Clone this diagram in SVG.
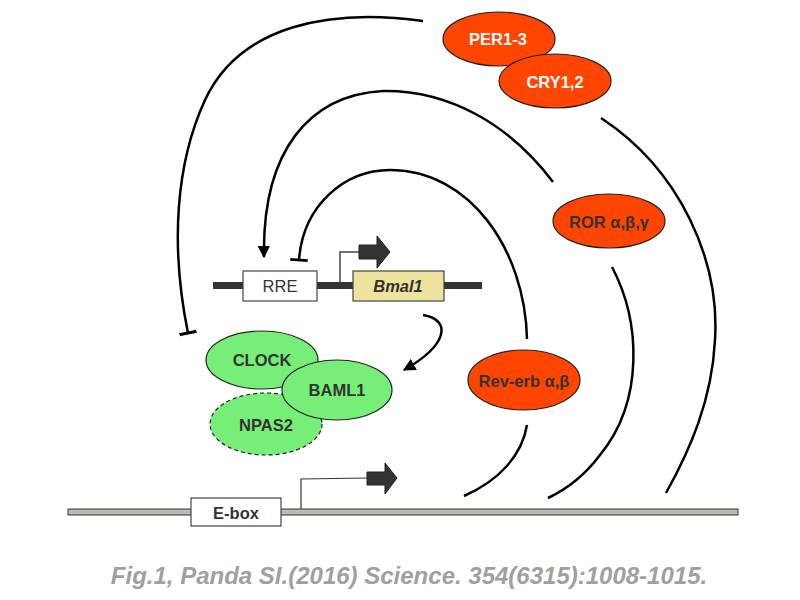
<svg xmlns="http://www.w3.org/2000/svg" width="800" height="600" viewBox="0 0 800 600">
<style>
.red{fill:#FF4500;stroke:#222;stroke-width:1.2}
.grn{fill:#77EE77;stroke:#222;stroke-width:1.2}
.t{font-family:"Liberation Sans",Arial,sans-serif;font-size:16.5px;font-weight:bold;fill:#333;text-anchor:middle;dominant-baseline:central}
.w{fill:#fff}
.c{fill:none;stroke:#000;stroke-width:2.5}
.dk{fill:#333;stroke:#222;stroke-width:1}
</style>
<defs>
<marker id="arr" viewBox="0 0 10 10" refX="9" refY="5" markerWidth="5" markerHeight="5" orient="auto" markerUnits="strokeWidth">
<path d="M0,0 L10,5 L0,10 z" fill="#000"/>
</marker>
<marker id="tbar" viewBox="0 0 4 12" refX="2" refY="6" markerWidth="2.4" markerHeight="7" orient="auto" markerUnits="strokeWidth">
<rect x="1" y="0" width="2" height="12" fill="#000"/>
</marker>
</defs>
<rect width="800" height="600" fill="#fff"/>

<g id="connectors">
<path class="c" d="M423,21 C330,8 240,25 205,100 C176,163 170,245 188,333" marker-end="url(#tbar)"/>
<path class="c" d="M553,182 C510,125 450,90 383,91 C310,95 262,150 264,257" marker-end="url(#arr)"/>
<path class="c" d="M527,339 C525,250 470,170 390,170 C345,170 303,205 299,260" marker-end="url(#tbar)"/>
<path class="c" d="M612,267 C640,320 645,400 600,455 C585,475 565,490 548,498"/>
<path class="c" d="M601,118 C680,170 720,260 715,340 C712,400 690,450 666,493"/>
<path class="c" d="M464,496 C500,480 522,455 527,425"/>
<path class="c" d="M423,315 C452,320 448,345 404,370" marker-end="url(#arr)"/>
</g>

<g id="gene-top">
<rect x="213" y="282" width="269" height="7" fill="#333"/>
<polyline points="340,282 340,252 360,252" fill="none" stroke="#444" stroke-width="1.5"/>
<path class="dk" d="M359,245 L377,245 L377,236 L390,252 L377,268 L377,259 L359,259 z"/>
</g>
<g id="RRE">
<rect x="243" y="271" width="74" height="30" fill="#fff" stroke="#444" stroke-width="1.2"/>
<text class="t" x="280" y="286" style="font-weight:normal">RRE</text>
</g>
<g id="Bmal1">
<rect x="353" y="271" width="91" height="30" fill="#EEE39E" stroke="#444" stroke-width="1.2"/>
<text class="t" x="398" y="286" font-style="italic">Bmal1</text>
</g>

<g id="gene-bottom">
<rect x="68" y="509" width="670" height="6" fill="#BBBBAF" stroke="#333" stroke-width="1"/>
<polyline points="301,509 301,479 368,478" fill="none" stroke="#333" stroke-width="1.2"/>
<path class="dk" d="M367,472 L385,472 L385,463 L397,478 L385,494 L385,485 L367,485 z"/>
</g>
<g id="Ebox">
<rect x="191" y="498" width="90" height="28" fill="#fff" stroke="#444" stroke-width="1.2"/>
<text class="t" x="236" y="513">E-box</text>
</g>

<g id="PER">
<ellipse class="red" cx="499" cy="39" rx="56" ry="27"/>
<text class="t w" x="498" y="39">PER1-3</text>
</g>
<g id="CRY">
<ellipse class="red" cx="555" cy="81" rx="56" ry="27"/>
<text class="t w" x="555" y="82">CRY1,2</text>
</g>
<g id="ROR">
<ellipse class="red" cx="609" cy="221" rx="56" ry="27"/>
<text class="t" x="609" y="222">ROR α,β,γ</text>
</g>
<g id="Reverb">
<ellipse class="red" cx="524" cy="380" rx="56" ry="30"/>
<text class="t" x="524" y="381">Rev-erb α,β</text>
</g>

<g id="CLOCK">
<ellipse class="grn" cx="262" cy="360" rx="56" ry="29"/>
<text class="t" x="262" y="360">CLOCK</text>
</g>
<g id="NPAS2">
<ellipse class="grn" cx="266" cy="424" rx="56" ry="31" stroke-dasharray="4,3"/>
<text class="t" x="266" y="425">NPAS2</text>
</g>
<g id="BAML1">
<ellipse class="grn" cx="337" cy="390" rx="55" ry="30"/>
<text class="t" x="337" y="390">BAML1</text>
</g>

<text x="409" y="584" font-family="'Liberation Sans',Arial,sans-serif" font-size="24" font-weight="bold" font-style="italic" fill="#A0A0A0" text-anchor="middle">Fig.1, Panda SI.(2016) Science. 354(6315):1008-1015.</text>
</svg>
